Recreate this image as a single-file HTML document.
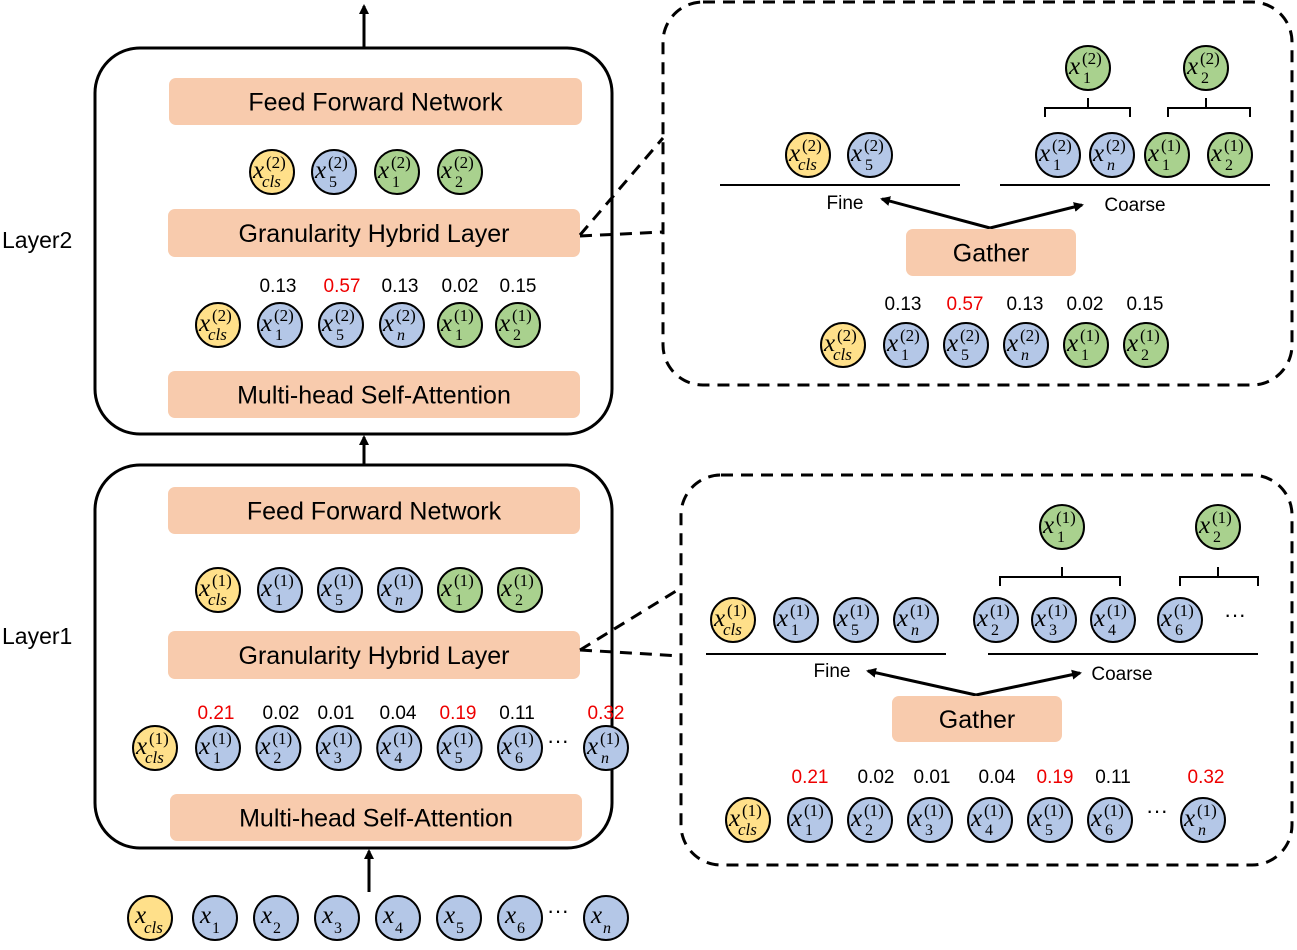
<!DOCTYPE html>
<html><head><meta charset="utf-8"><style>
html,body{margin:0;padding:0;background:#fff}
svg{display:block}
text{font-family:"Liberation Sans",sans-serif}
.m{font-family:"Liberation Serif",serif;font-style:italic}
</style></head><body>
<svg id="s" width="1297" height="950" viewBox="0 0 1297 950" xmlns="http://www.w3.org/2000/svg">
<defs><marker id="ah" markerWidth="10" markerHeight="10" refX="8" refY="5" orient="auto" markerUnits="userSpaceOnUse"><path d="M0,0 L10,5 L0,10 z" fill="#000"/></marker></defs>
<g id="g"></g>
</svg>
<script>
const layer2Values=["0.13","0.57","0.13","0.02","0.15"];
const layer2Red=[false,true,false,false,false];
const layer1Values=["0.21","0.02","0.01","0.04","0.19","0.11","0.32"];
const layer1Red=[true,false,false,false,true,false,true];

const NS="http://www.w3.org/2000/svg";
const G=document.getElementById('g');
const COL={y:"#ffe08a",b:"#b4c7e7",g:"#a9d18e"};
function el(tag,attrs,parent){const e=document.createElementNS(NS,tag);for(const k in attrs)e.setAttribute(k,attrs[k]);(parent||G).appendChild(e);return e;}
function tok(x,y,c,sub,sup,name){
  const g=el('g',{});
  
  
  el('circle',{cx:x,cy:y,r:22,fill:COL[c],stroke:'#000','stroke-width':2},g);
  const isNum=/^[0-9]$/.test(sub);
  const t=el('text',{x:sup?x-19:x-15,y:sup?y+6:y+5,class:'m','font-size':25},g);
  const a=el('tspan',{},t);a.textContent='x';
  if(sup){const p=el('tspan',{x:x-6,y:y-4,'font-size':17,'font-style':'normal'},t);p.textContent=sup;}
  const b=el('tspan',{x:sup?x-5:x-3,y:y+15,'font-size':sub.length>1?17:16,'font-style':isNum?'normal':'italic'},t);b.textContent=sub;
  if(sub.length>1){b.setAttribute('x',sup?x-10:x-6);}
  return g;
}
function box(x,y,w,h,label,name,fs){
  const g=el('g',{});
  
  
  el('rect',{x:x,y:y,width:w,height:h,rx:7,fill:'#f8cbad'},g);
  const t=el('text',{x:x+w/2,y:y+h/2+9,'text-anchor':'middle','font-size':fs||25},g);t.textContent=label;
}
function txt(x,y,s,name,fs,fill,anchor){
  const t=el('text',{x:x,y:y,'font-size':fs||19,fill:fill||'#000','text-anchor':anchor||'middle'});
  t.textContent=s;
  
  
}
function line(x1,y1,x2,y2,opt){return el('line',Object.assign({x1,y1,x2,y2,stroke:'#000','stroke-width':2},opt||{}));}
function arrow(x1,y1,x2,y2,w){const l=line(x1,y1,x2,y2,{'stroke-width':w||3,'marker-end':'url(#ah)'});return l;}
function brace(x1,x2,y,xm){el('path',{d:`M${x1},${y+9} V${y} H${x2} V${y+9} M${xm},${y} V${y-10}`,fill:'none',stroke:'#000','stroke-width':2});}

let r=el('rect',{x:95,y:48,width:517,height:386,rx:45,fill:'none',stroke:'#000','stroke-width':3});

r=el('rect',{x:95,y:465,width:517,height:383,rx:45,fill:'none',stroke:'#000','stroke-width':3});

arrow(364,48,364,6);arrow(364,465,364,437);arrow(369,892,369,851);
txt(2,248,'Layer2','layer2-label',23,'#000','start');
txt(2,644,'Layer1','layer1-label',23,'#000','start');

box(169,78,413,47,'Feed Forward Network','layer2-ffn');
tok(272,172,'y','cls','(2)','l2-out-cls');tok(334,172,'b','5','(2)','l2-out-x5');tok(397,172,'g','1','(2)','l2-out-g1');tok(460,172,'g','2','(2)','l2-out-g2');
box(168,209,412,48,'Granularity Hybrid Layer','layer2-ghl');
const l2x=[278,342,400,460,518];
layer2Values.forEach((v,i)=>txt(l2x[i],292,v,'l2-attn-'+i,19,layer2Red[i]?'#e00':'#000'));
tok(218,325,'y','cls','(2)','l2-in-cls');tok(280,325,'b','1','(2)','l2-in-x1');tok(341,325,'b','5','(2)','l2-in-x5');tok(402,325,'b','n','(2)','l2-in-xn');tok(460,325,'g','1','(1)','l2-in-g1');tok(518,325,'g','2','(1)','l2-in-g2');
box(168,371,412,47,'Multi-head Self-Attention','layer2-mhsa');

box(168,487,412,47,'Feed Forward Network','layer1-ffn');
tok(218,590,'y','cls','(1)','l1-out-cls');tok(280,590,'b','1','(1)','l1-out-x1');tok(340,590,'b','5','(1)','l1-out-x5');tok(400,590,'b','n','(1)','l1-out-xn');tok(460,590,'g','1','(1)','l1-out-g1');tok(520,590,'g','2','(1)','l1-out-g2');
box(168,631,412,48,'Granularity Hybrid Layer','layer1-ghl');
const l1x=[216,281,336,398,458,517,606];
layer1Values.forEach((v,i)=>txt(l1x[i],719,v,'l1-attn-'+i,19,layer1Red[i]?'#e00':'#000'));
tok(155,748,'y','cls','(1)','l1-in-cls');
['1','2','3','4','5','6'].forEach((s,i)=>tok(218+i*60.4,748,'b',s,'(1)','l1-in-x'+s));
txt(558,748,'···','l1-ellipsis',22);tok(606,748,'b','n','(1)','l1-in-xn');
box(170,794,412,47,'Multi-head Self-Attention','layer1-mhsa');

tok(150,918,'y','cls',null,'input-cls');
['1','2','3','4','5','6'].forEach((s,i)=>tok(215+i*61,918,'b',s,null,'input-x'+s));
txt(558,918,'···','input-ellipsis',22);tok(606,918,'b','n',null,'input-xn');

let d=el('rect',{x:663,y:2,width:629,height:383,rx:40,fill:'none',stroke:'#000','stroke-width':3,'stroke-dasharray':'12,8'});

line(580,235,663,138,{'stroke-width':3,'stroke-dasharray':'12,8'});
line(580,236,663,232,{'stroke-width':3,'stroke-dasharray':'12,8'});
tok(1088,68,'g','1','(2)','d2-top-g1');tok(1206,68,'g','2','(2)','d2-top-g2');
brace(1045,1130,108,1088);brace(1168,1250,108,1206);
tok(808,155,'y','cls','(2)','d2-fine-cls');tok(870,155,'b','5','(2)','d2-fine-x5');
tok(1058,155,'b','1','(2)','d2-coarse-x1');tok(1112,155,'b','n','(2)','d2-coarse-xn');tok(1167,155,'g','1','(1)','d2-coarse-g1');tok(1230,155,'g','2','(1)','d2-coarse-g2');
line(720,185,960,185);line(1000,185,1270,185);
txt(845,209,'Fine','d2-fine-label',19);txt(1135,211,'Coarse','d2-coarse-label',19);
arrow(990,228,882,199);arrow(990,228,1082,205);
box(906,229,170,47,'Gather','d2-gather',25);
const d2x=[903,965,1025,1085,1145];
layer2Values.forEach((v,i)=>txt(d2x[i],310,v,'d2-attn-'+i,19,layer2Red[i]?'#e00':'#000'));
tok(843,345,'y','cls','(2)','d2-in-cls');tok(906,345,'b','1','(2)','d2-in-x1');tok(966,345,'b','5','(2)','d2-in-x5');tok(1026,345,'b','n','(2)','d2-in-xn');tok(1086,345,'g','1','(1)','d2-in-g1');tok(1146,345,'g','2','(1)','d2-in-g2');

d=el('rect',{x:681,y:475,width:611,height:390,rx:40,fill:'none',stroke:'#000','stroke-width':3,'stroke-dasharray':'12,8'});

line(580,650,681,588,{'stroke-width':3,'stroke-dasharray':'12,8'});
line(580,650,681,656,{'stroke-width':3,'stroke-dasharray':'12,8'});
tok(1062,527,'g','1','(1)','d1-top-g1');tok(1218,527,'g','2','(1)','d1-top-g2');
brace(1000,1120,577,1062);brace(1180,1258,577,1218);
tok(733,620,'y','cls','(1)','d1-fine-cls');tok(796,620,'b','1','(1)','d1-fine-x1');tok(856,620,'b','5','(1)','d1-fine-x5');tok(916,620,'b','n','(1)','d1-fine-xn');
tok(996,620,'b','2','(1)','d1-coarse-x2');tok(1054,620,'b','3','(1)','d1-coarse-x3');tok(1113,620,'b','4','(1)','d1-coarse-x4');tok(1180,620,'b','6','(1)','d1-coarse-x6');
txt(1235,622,'···','d1-ellipsis',22);
line(706,654,946,654);line(988,654,1258,654);
txt(832,677,'Fine','d1-fine-label',19);txt(1122,680,'Coarse','d1-coarse-label',19);
arrow(976,695,868,671);arrow(976,695,1080,673);
box(892,696,170,46,'Gather','d1-gather',25);
const d1x=[810,876,932,997,1055,1113,1206];
layer1Values.forEach((v,i)=>txt(d1x[i],783,v,'d1-attn-'+i,19,layer1Red[i]?'#e00':'#000'));
tok(748,820,'y','cls','(1)','d1-in-cls');
['1','2','3','4','5','6'].forEach((s,i)=>tok(810+i*60,820,'b',s,'(1)','d1-in-x'+s));
txt(1157,818,'···','d1-in-ellipsis',22);tok(1203,820,'b','n','(1)','d1-in-xn');
</script>
</body></html>
